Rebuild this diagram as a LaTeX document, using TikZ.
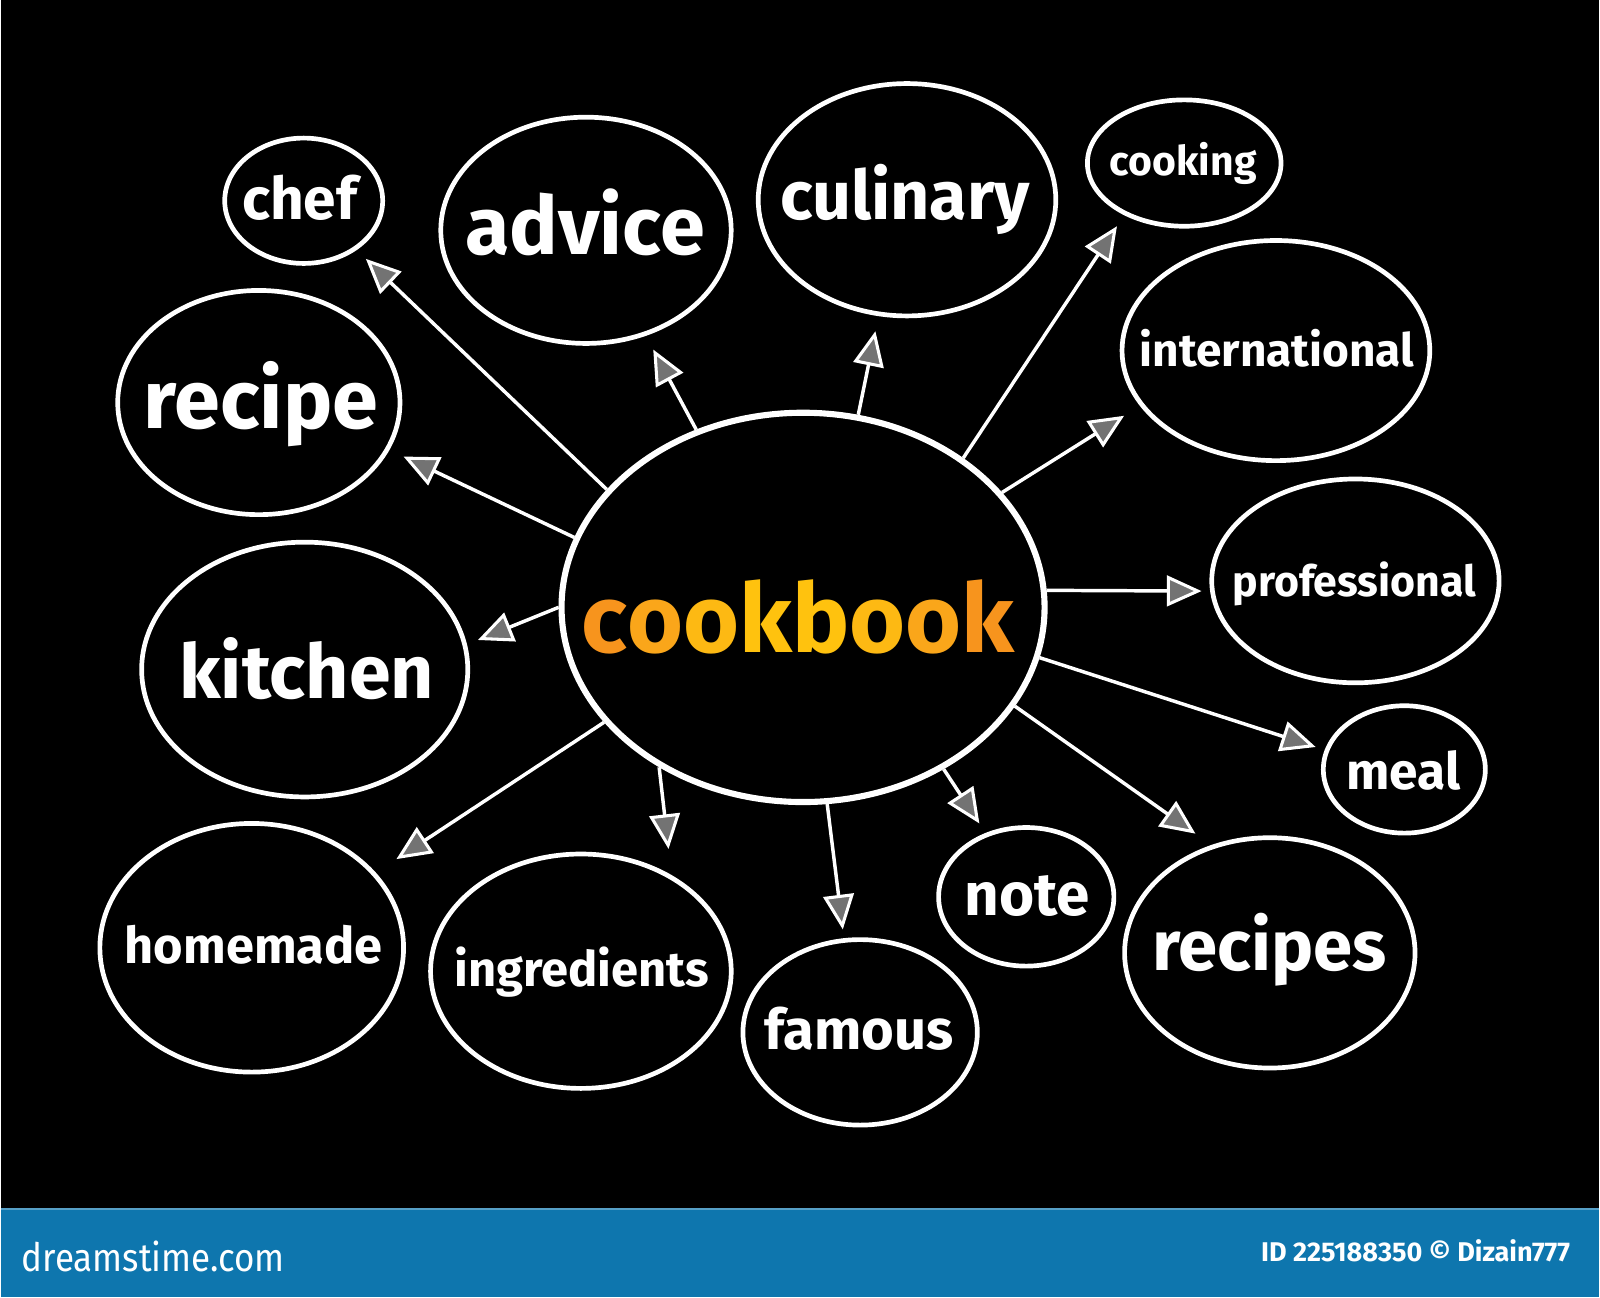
\documentclass[tikz,border=0pt]{standalone}
\usepackage{fontspec}
\setmainfont{Fira Sans}
\usetikzlibrary{shapes.geometric,arrows.meta}
\definecolor{barblue}{HTML}{0E76AE}
\definecolor{ckA}{HTML}{F7941D}
\definecolor{ckB}{HTML}{FAA61A}
\definecolor{ckC}{HTML}{FDB913}
\definecolor{ckD}{HTML}{FFC20E}
\newcommand\fitw[2]{\resizebox{#1pt}{!}{#2}}
\begin{document}
\begin{tikzpicture}[x=0.5pt,y=-0.5pt,
  bub/.style 2 args={draw=white, line width=2.3pt, ellipse, minimum width=#1*0.5pt, minimum height=#2*0.5pt, inner sep=0pt},
  txt/.style={text=white, inner sep=0pt, anchor=base, font=\bfseries},
  arr/.style={draw=white, line width=1.7pt, -{Triangle[length=17pt, width=15pt, fill=white!45!black, line width=1.5pt]}}]
\fill[black] (0,0) rectangle (1568,1273);
% central node
\node[bub={474}{382}, line width=3pt] (cb) at (787,596) {};
\node[txt] (cbT) at (782,640) {\fitw{212.5}{\textcolor{ckA}{c}\textcolor{ckB}{o}\textcolor{ckC}{o}\textcolor{ckD}{k}\textcolor{ckD}{b}\textcolor{ckC}{o}\textcolor{ckB}{o}\textcolor{ckA}{k}}};
% satellites
\node[bub={155}{123}] (chef) at (297,197) {};
\node[txt] (chefT) at (293,215) {\fitw{56.5}{chef}};
\node[bub={285}{222}] (advice) at (574,226) {};
\node[txt] (adviceT) at (573,250) {\fitw{117.5}{advice}};
\node[bub={292}{228}] (culinary) at (889,196) {};
\node[txt] (culinaryT) at (887,215) {\fitw{122.5}{culinary}};
\node[bub={190}{124}] (cooking) at (1161,160) {};
\node[txt] (cookingT) at (1160,172) {\fitw{72}{cooking}};
\node[bub={302}{216}] (international) at (1251,344) {};
\node[txt] (internationalT) at (1252,360) {\fitw{134.5}{international}};
\node[bub={282}{200}] (professional) at (1329,570) {};
\node[txt] (professionalT) at (1328,585) {\fitw{119.5}{professional}};
\node[bub={159}{125}] (meal) at (1377,755) {};
\node[txt] (mealT) at (1376,775) {\fitw{56}{meal}};
\node[bub={285}{226}] (recipes) at (1245,935) {};
\node[txt] (recipesT) at (1245,952) {\fitw{115}{recipes}};
\node[bub={172}{136}] (note) at (1006,880) {};
\node[txt] (noteT) at (1007,898) {\fitw{61.5}{note}};
\node[bub={230}{182}] (famous) at (843,1013) {};
\node[txt] (famousT) at (842,1030) {\fitw{92.5}{famous}};
\node[bub={295}{230}] (ingredients) at (569,953) {};
\node[txt] (ingredientsT) at (570,968) {\fitw{125}{ingredients}};
\node[bub={298}{244}] (homemade) at (246,930) {};
\node[txt] (homemadeT) at (248,945) {\fitw{126.5}{homemade}};
\node[bub={320}{250}] (kitchen) at (298,657) {};
\node[txt] (kitchenT) at (300,685) {\fitw{125}{kitchen}};
\node[bub={277}{220}] (recipe) at (253,395) {};
\node[txt] (recipeT) at (255,420) {\fitw{115}{recipe}};
% arrow tips
\coordinate (tchef) at (358,254);
\coordinate (tadvice) at (640,343);
\coordinate (tculinary) at (858,325);
\coordinate (tcooking) at (1095,222);
\coordinate (tinternational) at (1102,408);
\coordinate (tprofessional) at (1178,580);
\coordinate (tmeal) at (1290,733);
\coordinate (trecipes) at (1172,818);
\coordinate (tnote) at (960,808);
\coordinate (tfamous) at (826,912);
\coordinate (tingredients) at (655,833);
\coordinate (thomemade) at (388,843);
\coordinate (tkitchen) at (468,628);
\coordinate (trecipe) at (395,448);
\draw[arr] (cb.149.7) -- (tchef);
\draw[arr] (cb.121.1) -- (tadvice);
\draw[arr] (cb.74.3) -- (tculinary);
\draw[arr] (cb.43.2) -- (tcooking);
\draw[arr] (cb.30.8) -- (tinternational);
\draw[arr] (cb.4.2) -- (tprofessional);
\draw[arr] (cb.-12.2) -- (tmeal);
\draw[arr] (cb.-25.9) -- (trecipes);
\draw[arr] (cb.-49.5) -- (tnote);
\draw[arr] (cb.-83.8) -- (tfamous);
\draw[arr] (cb.228.1) -- (tingredients);
\draw[arr] (cb.210.5) -- (thomemade);
\draw[arr] (cb.180.9) -- (tkitchen);
\draw[arr] (cb.163.0) -- (trecipe);
% bottom bar
\fill[barblue] (0,1185) rectangle (1568,1273);
\draw[barblue!70!white, line width=1pt] (0,1186) -- (1568,1186);
\node[anchor=base west, text=white, inner sep=0pt] (dst) at (20,1248) {\resizebox{129pt}{15pt}{dreamstime.com}};
\node[anchor=base east, text=white, inner sep=0pt, font=\bfseries] (idt) at (1540,1238) {\fitw{151.5}{ID 225188350 © Dizain777}};
\end{tikzpicture}
\end{document}
